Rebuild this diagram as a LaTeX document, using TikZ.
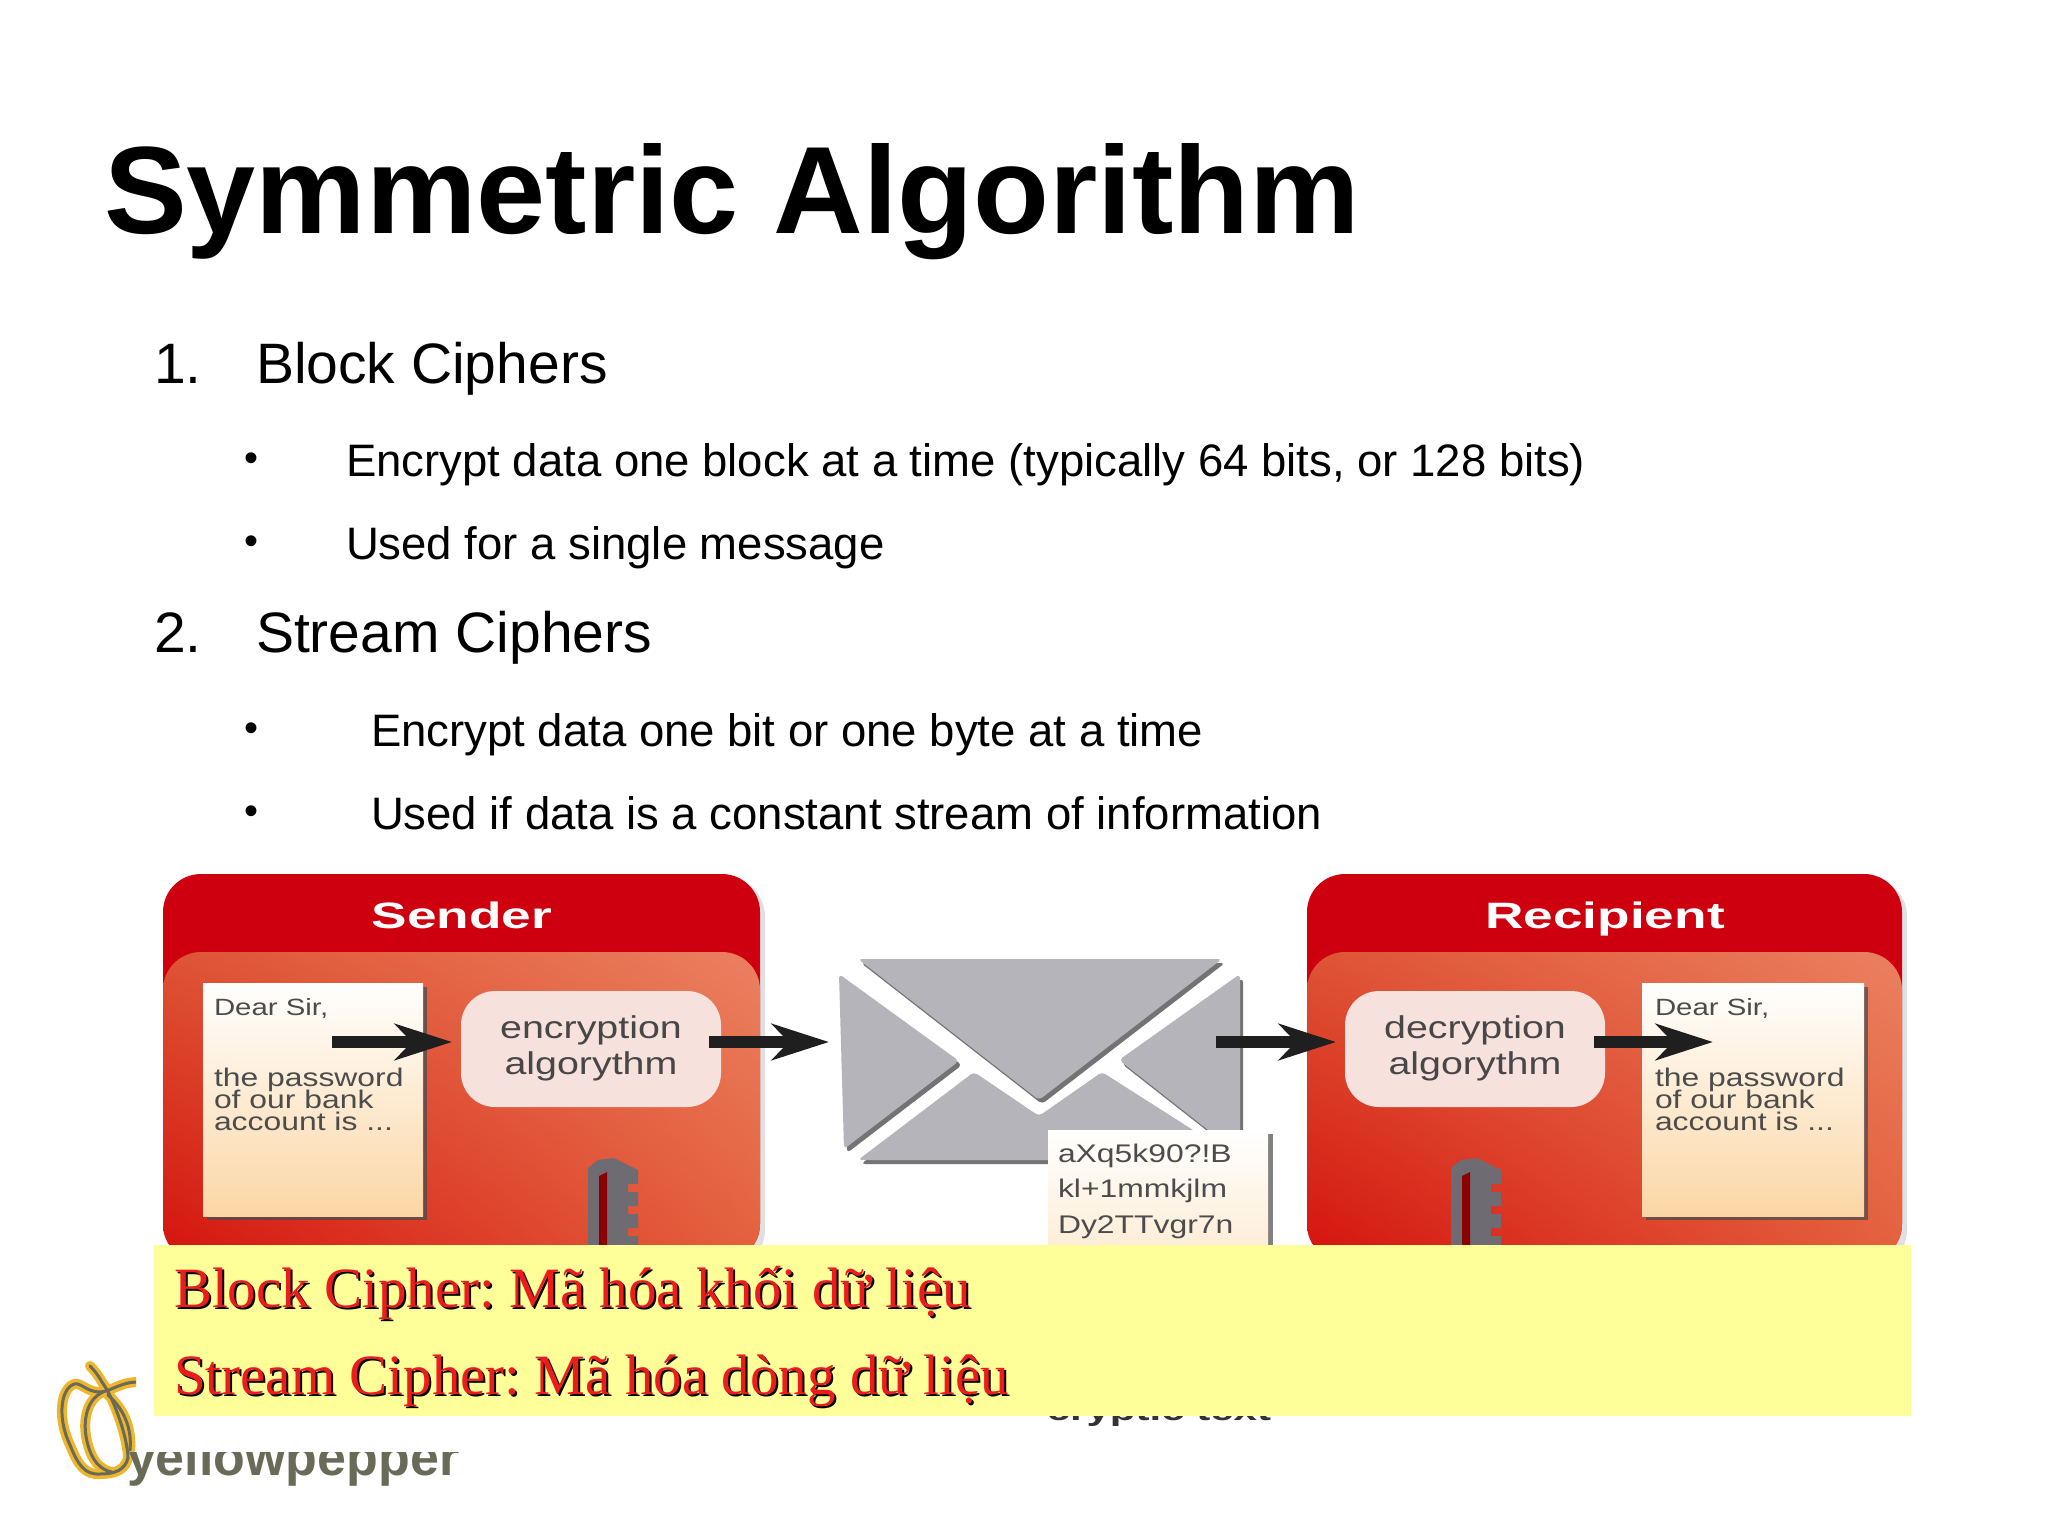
\documentclass[tikz,border=0pt]{standalone}
\usepackage{fontspec}
\setmainfont{Liberation Sans}
\newfontfamily\serifv{Liberation Serif}
\newfontfamily\widefont[FakeStretch=1.25]{Liberation Sans}
\newfontfamily\widebold[FakeStretch=1.45]{Liberation Sans Bold}
\usetikzlibrary{arrows.meta,shadings}
\definecolor{boxred}{HTML}{CE0010}
\definecolor{envgray}{HTML}{B5B4BA}
\definecolor{noteyel}{HTML}{FFFF99}
\definecolor{ciph}{HTML}{EC1C1C}
\definecolor{tan}{HTML}{FBD6A4}
\definecolor{keygray}{HTML}{6E6C72}
\definecolor{logogold}{HTML}{EDB62D}
\definecolor{logodark}{HTML}{6A6A58}
\definecolor{algofill}{HTML}{F7E1DD}
\newcommand{\fs}[1]{\fontsize{#1}{#1}\selectfont}
\tikzset{
  x=1pt,y=-1pt,
  every node/.style={inner sep=0pt,outer sep=0pt},
  txt/.style={anchor=base west,text=black},
  titletxt/.style={txt,font=\fs{124.2}\bfseries},
  headtxt/.style={txt,font=\fs{57}},
  bodytxt/.style={txt,font=\fs{45.5}},
  bullet/.style={anchor=center,font=\fs{40}},
  outerbox/.style={fill=boxred,rounded corners=38pt},
  hdr/.style={anchor=base,text=white,font=\widebold\fs{36.7}},
  algobox/.style={fill=algofill,rounded corners=34pt},
  algotxt/.style={anchor=base,text=black!72,font=\widefont\fs{31.5}},
  papertxt/.style={anchor=base west,text=black!70,font=\widefont\fs{25.5}},
  deartxt/.style={anchor=base west,text=black!70,font=\widefont\fs{23.5}},
  flow/.style={draw=black!88,line width=12pt,-{Stealth[length=57pt,width=36pt,inset=17pt]}},
  paper/.style={top color=white,bottom color=tan},
  shadowrect/.style={fill=black!70,opacity=.75},
  softshadow/.style={fill=black,opacity=.12,rounded corners=38pt},
  envpart/.style={fill=envgray,rounded corners=4pt},
  envshadow/.style={fill=black!55,rounded corners=4pt},
  cipher/.style={anchor=base west,text=ciph,font=\serifv\fs{57}},
  ciphershadow/.style={anchor=base west,text=black,font=\serifv\fs{57}},
  logoout/.style={draw=logogold,line width=10pt,line cap=round},
  logoin/.style={draw=logodark,line width=3pt,line cap=round},
}
\newcommand{\redpanel}[2]{%
  \fill[softshadow] (#1+5,878) rectangle (#2+5,1268);
  \fill[outerbox] (#1,874) rectangle (#2,1262);
  \shade[shading=bilinear interpolation,
    lower left={rgb,255:red,212;green,18;blue,14},lower right={rgb,255:red,228;green,96;blue,60},
    upper left={rgb,255:red,222;green,84;blue,52},upper right={rgb,255:red,234;green,128;blue,96}]
    [rounded corners=38pt] (#1,1262) -- (#1,952) -- (#2,952) -- (#2,1262) -- cycle;
}
\newcommand{\keyshape}[1]{%
  \fill[keygray] (#1,1250) -- (#1,1168) -- (#1+10,1160) -- (#1+26,1158) -- (#1+38,1164)
    -- (#1+50,1170) -- (#1+50,1184) -- (#1+40,1184) -- (#1+40,1192) -- (#1+50,1192)
    -- (#1+50,1206) -- (#1+40,1206) -- (#1+40,1214) -- (#1+50,1214)
    -- (#1+50,1228) -- (#1+40,1228) -- (#1+40,1236) -- (#1+50,1236) -- (#1+50,1250) -- cycle;
  \fill[red!55!black] (#1+11,1250) -- (#1+11,1176) -- (#1+19,1172) -- (#1+19,1250) -- cycle;
}
\newcommand{\envshapes}[1]{%
  \fill[#1] (839,974) -- (959,1061) -- (844,1149) -- cycle;
  \fill[#1] (858,959) -- (1222,959) -- (1039,1100) -- cycle;
  \fill[#1] (1240,974) -- (1119,1060) -- (1240,1155) -- cycle;
  \fill[#1] (858,1160) -- (974,1072) -- (1039,1116) -- (1102,1072) -- (1240,1160) -- cycle;
}
\begin{document}
\frenchspacing
\begin{tikzpicture}
\useasboundingbox (0,0) rectangle (2048,1536);
\fill[white] (0,0) rectangle (2048,1536);
% text block
\node[titletxt] (title) at (104,233.5) {Symmetric Algorithm};
\node[headtxt] (n1) at (154,383) {1.};
\node[headtxt] (h1) at (256,383) {Block Ciphers};
\node[bullet] (b1) at (251,462) {•};
\node[bodytxt] (t1) at (346,476) {Encrypt data one block at a time (typically 64 bits, or 128 bits)};
\node[bullet] (b2) at (251,545) {•};
\node[bodytxt] (t2) at (346,559) {Used for a single message};
\node[headtxt] (n2) at (154,652) {2.};
\node[headtxt] (h2) at (256,652) {Stream Ciphers};
\node[bullet] (b3) at (251,732) {•};
\node[bodytxt] (t3) at (371,746) {Encrypt data one bit or one byte at a time};
\node[bullet] (b4) at (251,815) {•};
\node[bodytxt] (t4) at (371,829) {Used if data is a constant stream of information};
% panels
\redpanel{163}{760}
\redpanel{1307}{1902}
\node[hdr] (sender) at (462,928) {Sender};
\node[hdr] (recipient) at (1605,928) {Recipient};
% papers
\fill[shadowrect] (207,987) rectangle (427,1220);
\shade[paper] (203,983) rectangle (423,1216);
\fill[shadowrect] (1646,987) rectangle (1868,1220);
\shade[paper] (1642,983) rectangle (1864,1216);
\foreach \px/\nm in {214/a,1655/b}{
  \node[deartxt] (dear\nm) at (\px,1015) {Dear Sir,};
  \node[papertxt] (pw\nm) at (\px,1086) {the password};
  \node[papertxt] (ob\nm) at (\px,1108) {of our bank};
  \node[papertxt] (ac\nm) at (\px,1130) {account is ...};
}
% algorithm boxes
\node[algobox,minimum width=260pt,minimum height=116pt] (enc) at (591,1049) {};
\node[algotxt] (enc1) at (591,1038) {encryption};
\node[algotxt] (enc2) at (591,1074) {algorythm};
\node[algobox,minimum width=260pt,minimum height=116pt] (dec) at (1475,1049) {};
\node[algotxt] (dec1) at (1475,1038) {decryption};
\node[algotxt] (dec2) at (1475,1074) {algorythm};
% keys
\keyshape{588}
\keyshape{1451}
% envelope
\begin{scope}[shift={(3,4)}]
\envshapes{envshadow}
\end{scope}
\envshapes{envpart}
% cipher note
\fill[black!50] (1268,1134) rectangle (1273,1300);
\shade[top color=white,bottom color=tan] (1048,1130) rectangle (1268,1400);
\node[papertxt] (c1) at (1058,1162) {aXq5k90?!B};
\node[papertxt] (c2) at (1058,1197) {kl+1mmkjlm};
\node[papertxt] (c3) at (1058,1233) {Dy2TTvgr7n};
% connectors
\coordinate (a1) at (332,1042); \coordinate (a2) at (452,1042);
\coordinate (b1s) at (709,1042); \coordinate (b2s) at (829,1042);
\coordinate (c1s) at (1216,1042); \coordinate (c2s) at (1336,1042);
\coordinate (d1s) at (1594,1042); \coordinate (d2s) at (1713,1042);
\draw[flow] (a1) -- (a2);
\draw[flow] (b1s) -- (b2s);
\draw[flow] (c1s) -- (c2s);
\draw[flow] (d1s) -- (d2s);
% caption mostly hidden under the note
\begin{scope}
\clip (1000,1400) rectangle (1300,1425);
\node[anchor=base,text=black!80,font=\widebold\fs{29}] (crypt) at (1159,1420) {cryptic text};
\end{scope}
% yellow note
\fill[noteyel] (154,1245) rectangle (1911,1416);
\node[ciphershadow] (bs1) at (176,1309) {Block Cipher: Mã hóa khối dữ liệu};
\node[cipher] (bt1) at (174,1307) {Block Cipher: Mã hóa khối dữ liệu};
\node[ciphershadow] (bs2) at (176,1396) {Stream Cipher: Mã hóa dòng dữ liệu};
\node[cipher] (bt2) at (174,1394) {Stream Cipher: Mã hóa dòng dữ liệu};
% logo
\begin{scope}
\clip (50,1355) rectangle (136,1490);
\foreach \st in {logoout,logoin}{
  \draw[\st] (138,1382) .. controls (120,1382) and (110,1392) .. (100,1392)
    .. controls (85,1392) and (80,1380) .. (72,1385)
    .. controls (60,1392) and (58,1420) .. (70,1445)
    .. controls (78,1465) and (85,1475) .. (100,1474)
    .. controls (115,1474) and (125,1470) .. (128,1458)
    .. controls (128,1440) and (115,1400) .. (102,1382)
    .. controls (98,1375) and (94,1370) .. (90,1366);
  \draw[\st] (103,1392) .. controls (85,1400) and (82,1425) .. (88,1445)
    .. controls (92,1460) and (100,1470) .. (112,1472);
  \draw[\st] (108,1395) .. controls (125,1410) and (132,1430) .. (130,1450);
}
\end{scope}
\begin{scope}
\clip (120,1452) rectangle (480,1495);
\node[anchor=base west,text=logodark,font=\bfseries\fs{52}] (logo) at (127,1475) {yellowpepper};
\end{scope}
\end{tikzpicture}
\end{document}
